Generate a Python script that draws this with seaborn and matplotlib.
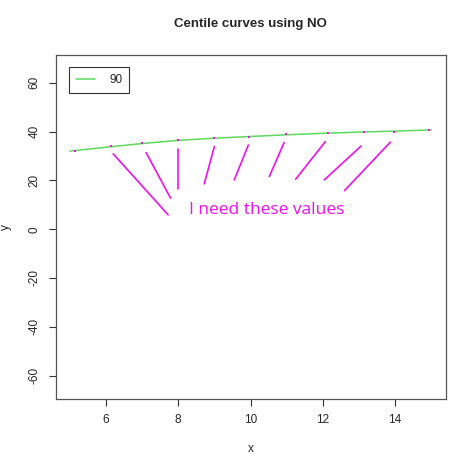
"""Centile curve chart (R base-graphics look) redrawn with seaborn."""

import matplotlib

matplotlib.use("Agg")
import matplotlib.pyplot as plt
import pandas as pd
import seaborn as sns

# centile curve (90th)
curve_x = [5.0, 6.0, 7.0, 8.0, 9.0, 10.0, 11.0, 12.0, 13.0, 14.0, 15.0]
curve_y = [32.0, 33.6, 35.1, 36.4, 37.3, 38.0, 38.7, 39.3, 39.8, 40.2, 40.7]

# magenta points sitting on the curve
point_x = [5.14, 6.13, 7.0, 8.0, 8.98, 9.95, 10.97, 12.13, 13.13, 13.97, 14.93]
point_y = [32.2, 33.9, 35.4, 36.6, 37.3, 37.8, 38.9, 39.5, 39.8, 39.9, 40.6]

# hand drawn annotation strokes: start (near curve) -> end (near the note)
stroke_x0 = [6.20, 7.11, 8.00, 9.00, 9.94, 10.93, 12.07, 13.06, 13.87]
stroke_y0 = [30.9, 31.4, 32.8, 33.9, 34.5, 35.5, 35.9, 34.1, 35.7]
stroke_x1 = [7.72, 7.79, 8.00, 8.72, 9.55, 10.52, 11.25, 12.04, 12.60]
stroke_y1 = [5.9, 12.7, 16.4, 18.6, 20.2, 21.6, 20.5, 20.2, 15.8]

note = "I need these values"
note_x, note_y = 10.46, 7.9

x_ticks = [6, 8, 10, 12, 14]
y_ticks = [-60, -40, -20, 0, 20, 40, 60]

GREEN = "#5fd85f"
MAGENTA = "#ee11ee"

sns.set_style("white")
plt.rcParams["font.family"] = ["Liberation Sans", "DejaVu Sans"]

curve = pd.DataFrame({"x": curve_x, "y": curve_y})
points = pd.DataFrame({"x": point_x, "y": point_y})

fig = plt.figure(figsize=(4.74, 4.69), dpi=100)
ax = fig.add_axes([0.1175, 0.1493, 0.8228, 0.7334])

sns.lineplot(data=curve, x="x", y="y", ax=ax, color=GREEN, lw=1.1, label="90")
sns.scatterplot(
    data=points, x="x", y="y", ax=ax, color=MAGENTA, marker="s", s=4,
    linewidth=0, legend=False, zorder=3,
)

for x0, y0, x1, y1 in zip(stroke_x0, stroke_y0, stroke_x1, stroke_y1):
    ax.plot([x0, x1], [y0, y1], color=MAGENTA, lw=1.2, solid_capstyle="round")

ax.text(note_x, note_y, note, color=MAGENTA, fontsize=12.5,
        family=["Open Sans", "DejaVu Sans"], ha="center", va="center")

ax.set_xlim(4.61, 15.40)
ax.set_ylim(-69.6, 71.4)
ax.set_xticks(x_ticks)
ax.set_yticks(y_ticks)
ax.set_xticklabels([str(t) for t in x_ticks], fontsize=8.5)
ax.set_yticklabels([str(t) for t in y_ticks], fontsize=8.5, rotation=90, va="center")
ax.tick_params(axis="both", direction="out", length=5, width=0.8, color="#333333",
               pad=6, left=True, bottom=True)
for side in ax.spines.values():
    side.set_visible(True)
    side.set_color("#555555")
    side.set_linewidth(0.9)

ax.set_xlabel("x", fontsize=8.5, labelpad=12)
ax.set_ylabel("y", fontsize=8.5, labelpad=12)
ax.set_title("Centile curves using NO", fontsize=9.5, fontweight="bold", pad=20)

leg = ax.legend(loc="upper left", bbox_to_anchor=(0.034, 0.965), borderaxespad=0,
                fancybox=False, framealpha=1, edgecolor="#333333", fontsize=8.5,
                handlelength=1.6, handletextpad=1.2, borderpad=0.6)
leg.get_frame().set_linewidth(0.8)

fig.savefig("out.png", dpi=100)
plt.close(fig)
